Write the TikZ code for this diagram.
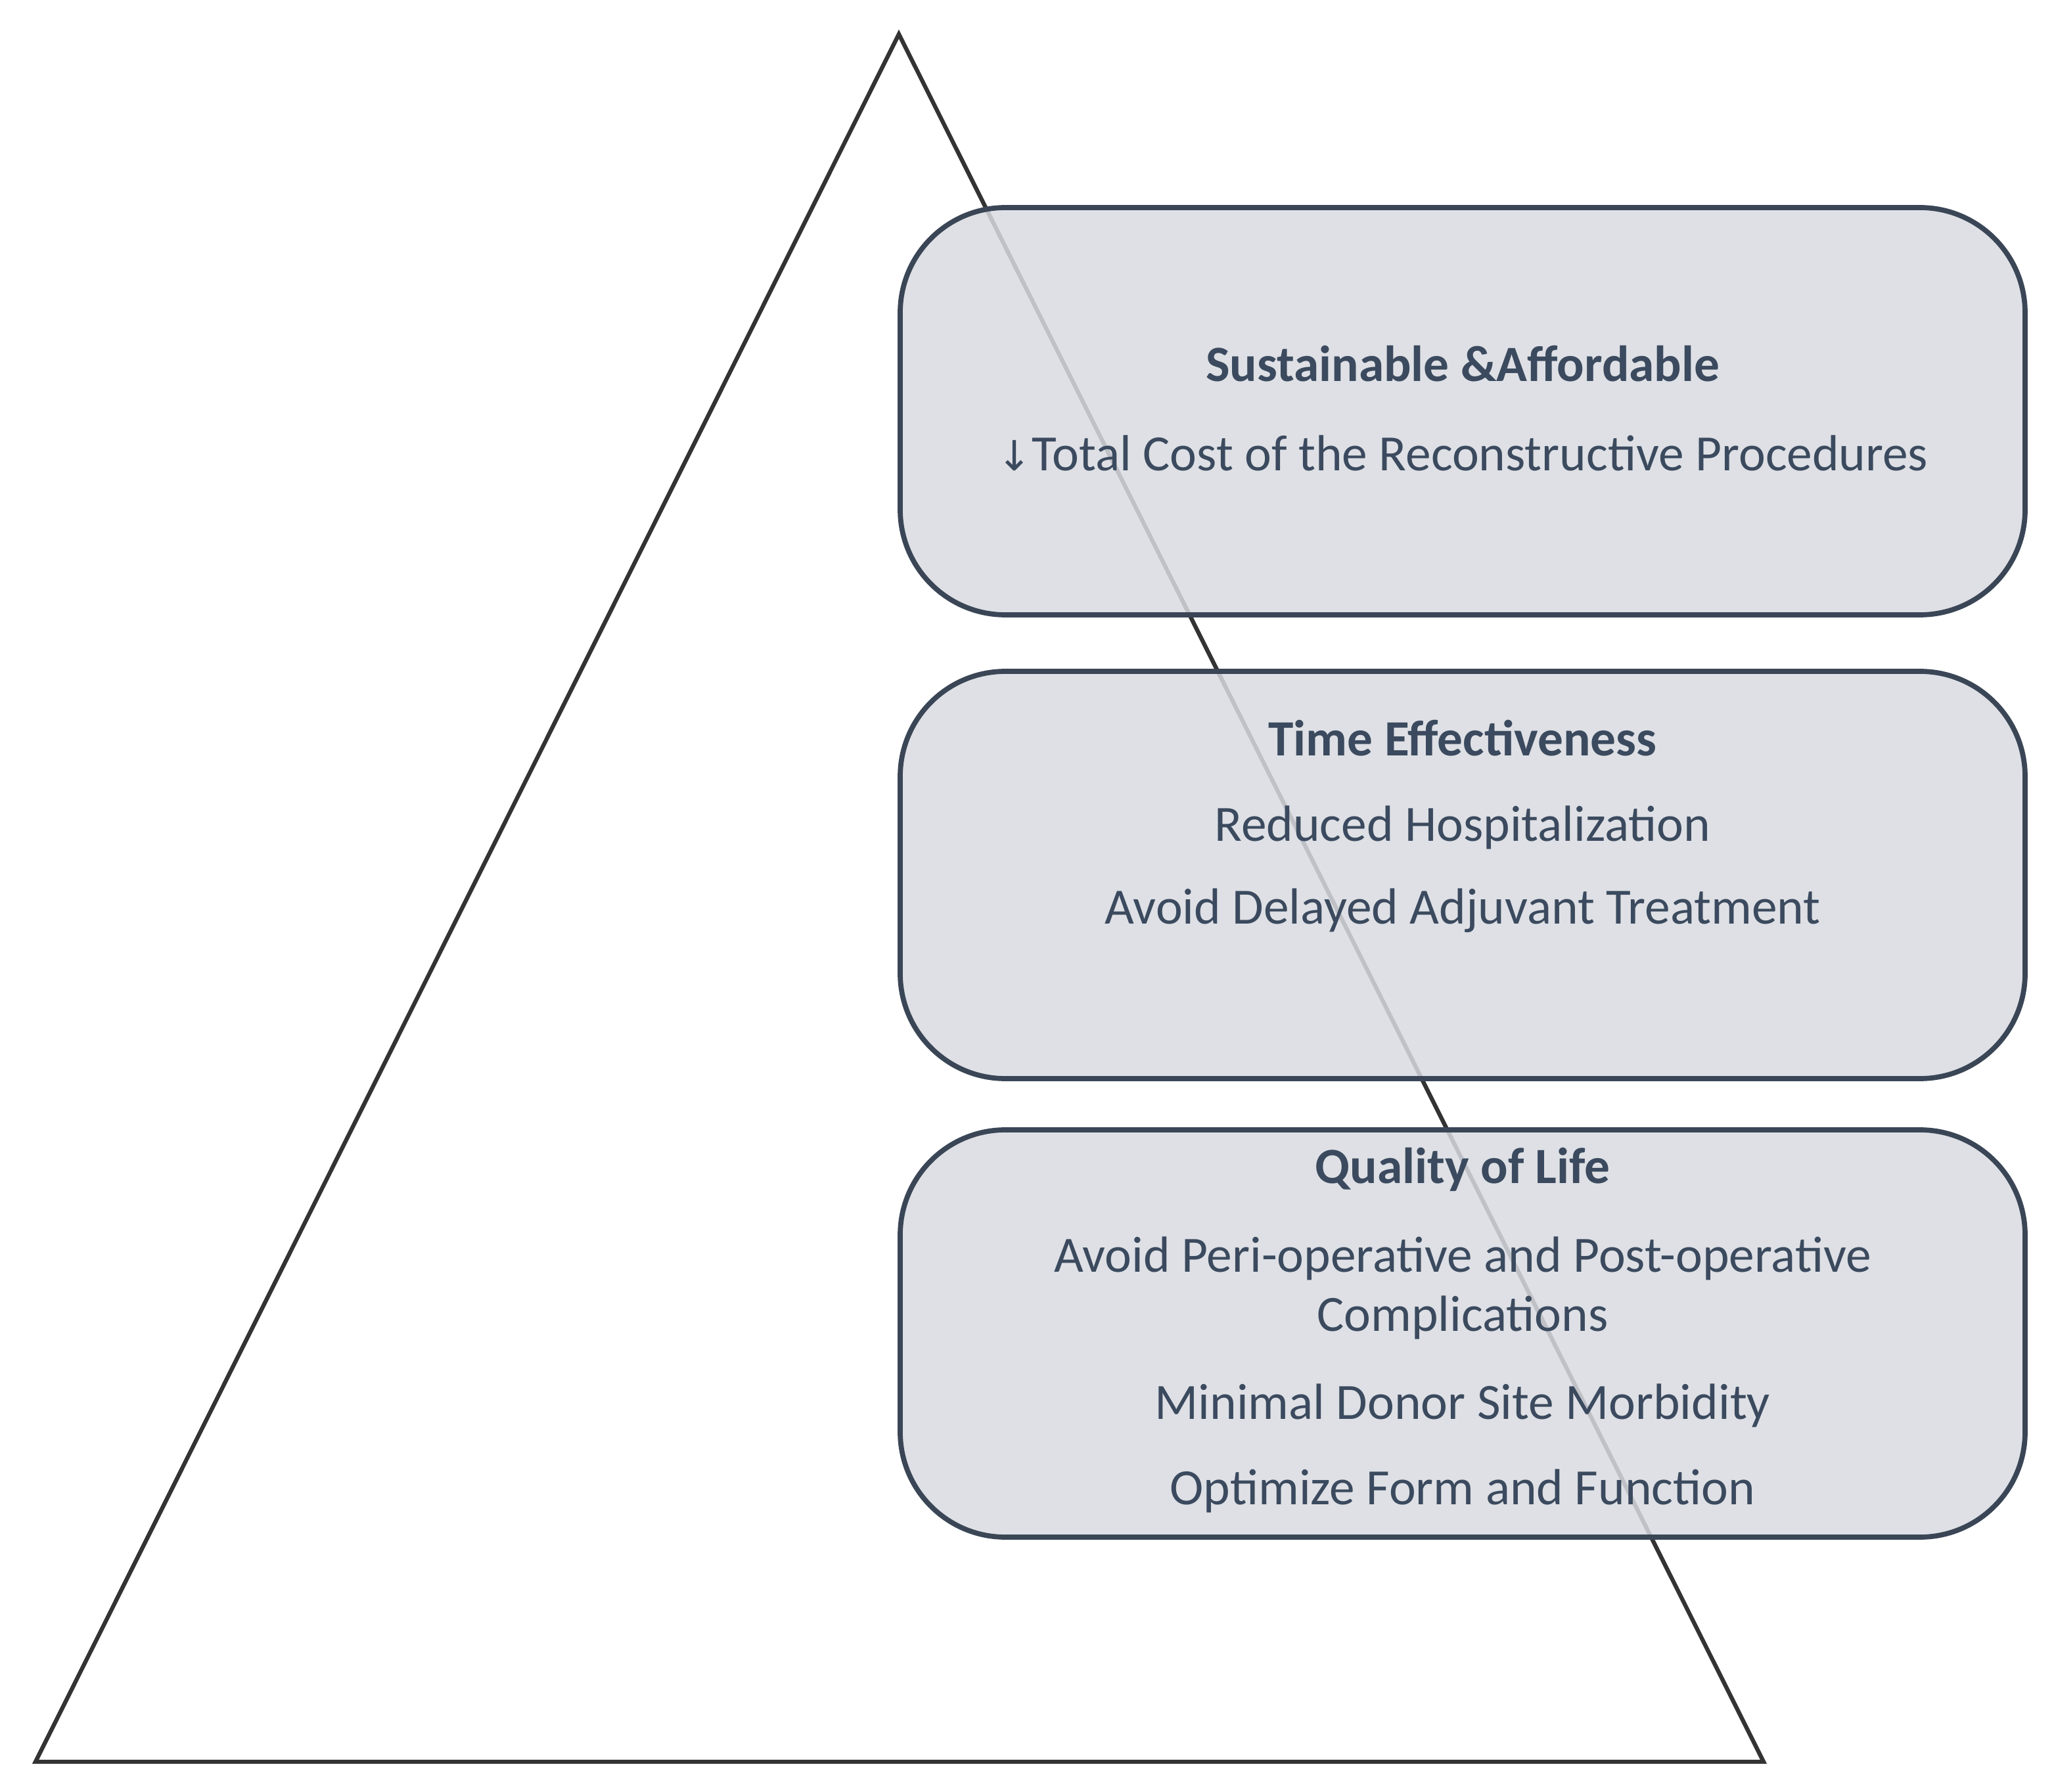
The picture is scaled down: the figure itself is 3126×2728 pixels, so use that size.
\documentclass[tikz,border=0pt]{standalone}
\usepackage{fontspec}
\setmainfont{Carlito}
\newfontfamily\symf{DejaVu Sans}
\definecolor{boxfill}{HTML}{D8DBE0}
\definecolor{boxline}{HTML}{3A4656}
\definecolor{txt}{HTML}{3B4A5E}
\begin{document}
\begin{tikzpicture}[x=0.01cm,y=-0.01cm,
  box/.style={draw=boxline,line width=2.2pt,fill=boxfill,fill opacity=0.85,rounded corners=1.6cm},
  lbl/.style={text=txt,font=\fontsize{22}{26}\selectfont,anchor=center,inner sep=0pt},
  ttl/.style={lbl,font=\fontsize{22}{26}\selectfont\bfseries}]
\useasboundingbox (0,0) rectangle (3126,2728);
\draw[line width=1.8pt,color=black!80] (1368,52) -- (2684,2682) -- (54,2682) -- cycle;
\draw[box] (1370,316) rectangle (3082,936);
\draw[box] (1370,1022) rectangle (3082,1642);
\draw[box] (1370,1720) rectangle (3082,2340);
\node[ttl] (t1) at (2226,554) {Sustainable \&Affordable};
\node[lbl] (l11) at (2226,690) {{\symf\fontsize{18}{20}\selectfont↓}Total Cost of the Reconstructive Procedures};
\node[ttl] (t2) at (2226,1124) {Time Effectiveness};
\node[lbl] (l21) at (2226,1260) {Reduced Hospitalization};
\node[lbl] (l22) at (2226,1386) {Avoid Delayed Adjuvant Treatment};
\node[ttl] (t3) at (2226,1780) {Quality of Life};
\node[lbl] (l31) at (2226,1916) {Avoid Peri-operative and Post-operative};
\node[lbl] (l32) at (2226,2006) {Complications};
\node[lbl] (l33) at (2226,2140) {Minimal Donor Site Morbidity};
\node[lbl] (l34) at (2226,2270) {Optimize Form and Function};
\end{tikzpicture}
\end{document}
